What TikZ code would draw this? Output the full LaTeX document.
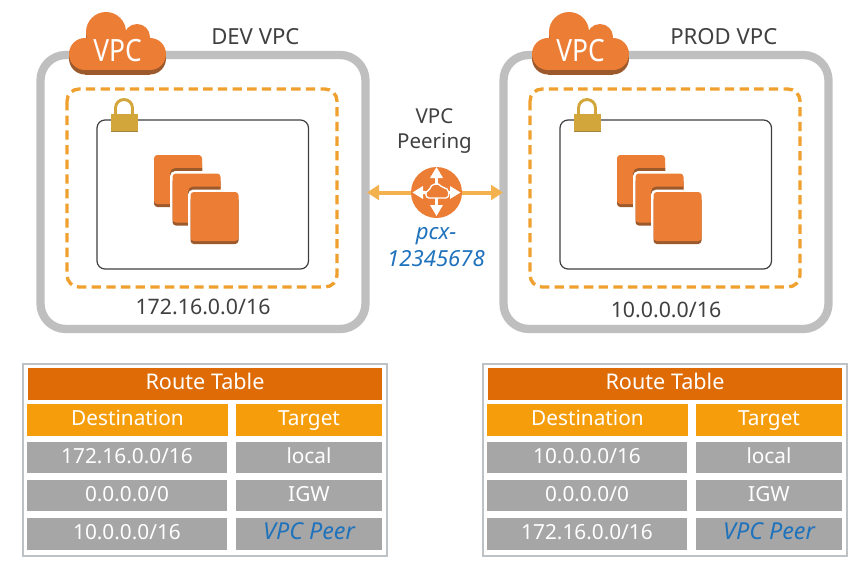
\documentclass[tikz,border=0pt]{standalone}
\usepackage{fontspec}
\setmainfont{Noto Sans}
\usetikzlibrary{arrows.meta}
\definecolor{orng}{HTML}{EC7D35}
\definecolor{orngd}{HTML}{9C5A2C}
\definecolor{framegray}{HTML}{BFBFBF}
\definecolor{dashor}{HTML}{EFA02E}
\definecolor{arrowor}{HTML}{F4B24E}
\definecolor{lockc}{HTML}{D2A63A}
\definecolor{lockd}{HTML}{A2843C}
\definecolor{hdr}{HTML}{DE6B05}
\definecolor{sub}{HTML}{F59D0B}
\definecolor{rowc}{HTML}{A6A6A6}
\definecolor{bluet}{HTML}{1F72BC}
\definecolor{inkc}{HTML}{404040}
\definecolor{tablb}{HTML}{BCC2C6}
\newcommand{\pxfont}[1]{\fontsize{#1}{#1}\selectfont}
\tikzset{
  x=0.75pt,y=-0.75pt,
  vpcframe/.style={draw=framegray,line width=6.2pt,rounded corners=19pt},
  subnetdash/.style={draw=dashor,line width=2.5pt,dash pattern=on 7pt off 4pt,rounded corners=9pt},
  innerbox/.style={draw=inkc,line width=0.9pt,rounded corners=6pt},
  title/.style={text=inkc,inner sep=0pt,font=\pxfont{16.6}},
  peertitle/.style={text=inkc,inner sep=0pt,font=\pxfont{15.4}},
  cidr/.style={text=inkc,inner sep=0pt,font=\pxfont{16}},
  cellb/.style={inner sep=0pt,text=white,anchor=center,text height=11.5pt,text depth=3pt},
  hdrcell/.style={cellb,fill=hdr,font=\pxfont{16.2}},
  subcell/.style={cellb,fill=sub,font=\pxfont{15.6}},
  rowcell/.style={cellb,fill=rowc,font=\pxfont{15.6}},
  peer/.style={font=\pxfont{16.6}\itshape,text=bluet},
  tableframe/.style={draw=tablb,line width=1.1pt,fill=white},
  linkarrow/.style={draw=arrowor,line width=3pt,-{Triangle[length=9pt,width=11pt]}},
  cloudtext/.style={text=white,inner sep=0pt,font=\pxfont{23},xscale=.86},
}
% table cell: name, x0, y0, x1, y1, style, text
\newcommand{\tcell}[7]{\node[#6,minimum width={(#4-#2)*0.75pt},minimum height={(#5-#3)*0.75pt}] (#1) at ({(#2+#4)/2},{(#3+#5)/2}) {#7};}
% rounded instance squares
\newcommand{\instface}[2]{%
  \fill[orngd,rounded corners=2.5pt] (#1,#2+5) rectangle (#1+48,#2+52);
  \fill[orng,rounded corners=2.5pt] (#1,#2) rectangle (#1+48,#2+49);}
\newcommand{\inst}[2]{%
  \begin{scope}
    \clip (#1-18.5,#2-18.5) rectangle (#1+29.5,#2+34);
    \fill[orngd,rounded corners=4pt] (#1-2.5,#2-5.5) rectangle (#1+50,#2+48);
  \end{scope}
  \fill[white,rounded corners=4pt] (#1-2.5,#2-2.5) rectangle (#1+50.5,#2+54);
  \instface{#1}{#2}}
% cloud made of overlapping parts, each filled on its own
\newcommand{\cloudshape}[2]{%
  \begin{scope}[shift={(0,#1)}]
  \fill[#2] (106,32) circle[radius=20];
  \fill[#2] (137,37) circle[radius=13];
  \fill[#2] (85,54) circle[radius=16];
  \fill[#2] (150,54) circle[radius=16];
  \fill[#2] (85,38) rectangle (150,70);
  \end{scope}}
% VPC group
\newcommand{\vpcgroup}[7]{%
\begin{scope}[shift={(#1,0)}]
  \draw[vpcframe] (40.5,55) rectangle (365.5,329);
  \draw[subnetdash] (67,89) rectangle (337,287);
  \draw[innerbox] (97,120) rectangle (308.5,269);
  \cloudshape{4.5}{orngd}
  \cloudshape{0}{orng}
  \node[cloudtext] (#2cl) at (117.5,51) {VPC};
  \draw[lockc,line width=2.2pt] (115.5,116) -- (115.5,108) arc[start angle=180,end angle=360,radius=8.5] -- (132.5,116);
  \fill[lockd] (111,116) rectangle (137.5,132);
  \fill[lockc] (111,114) rectangle (137.5,130.5);
  \instface{154}{155}\inst{172.5}{173.5}\inst{190.5}{192}
  \node[title,anchor=west] (#2name) at (#3,37) {#4};
  \node[cidr] (#2cidr) at (#6,#5) {#7};
\end{scope}}
\newcommand{\rtable}[4]{%
\begin{scope}[shift={(#1,0)}]
  \draw[tableframe] (23,364) rectangle (387,556);
  \tcell{#2h}{28}{368}{382}{400}{hdrcell}{Route Table}
  \tcell{#2d}{27}{404}{228}{436}{subcell}{Destination}
  \tcell{#2t}{236}{404}{382}{436}{subcell}{Target}
  \tcell{#2a}{27}{442}{227}{473}{rowcell}{#3}
  \tcell{#2b}{236}{442}{382}{473}{rowcell}{local}
  \tcell{#2c}{27}{480}{227}{511}{rowcell}{0.0.0.0/0}
  \tcell{#2e}{236}{480}{382}{511}{rowcell}{IGW}
  \tcell{#2f}{27}{518}{227}{550}{rowcell}{#4}
  \tcell{#2g}{236}{518}{382}{550}{rowcell}{\pxfont{17.5}\textcolor{bluet}{\itshape VPC Peer}}
\end{scope}}
\begin{document}
\begin{tikzpicture}
\useasboundingbox (0,0) rectangle (865,571);
\fill[white] (0,0) rectangle (865,571);
\vpcgroup{0}{dev}{211}{DEV VPC}{307}{203}{172.16.0.0/16}
\vpcgroup{463}{prod}{207}{PROD VPC}{310}{203}{10.0.0.0/16}
% peering
\coordinate (leftend) at (367,192.5);
\coordinate (rightend) at (503,192.5);
\node[circle,fill=orng,minimum size={51*0.75pt},inner sep=0pt] (router) at (436.5,192.5) {};
\draw[linkarrow] (router.west) -- (leftend);
\draw[linkarrow] (router.east) -- (rightend);
\begin{scope}[white]
 \draw[line width=2pt] (436.5,177) -- (436.5,208) (420,192.5) -- (454,192.5);
 \fill (436.5,167) -- (443,178) -- (430,178) -- cycle;
 \fill (436.5,216) -- (443,205) -- (430,205) -- cycle;
 \fill (412.5,192.5) -- (423,186) -- (423,199) -- cycle;
 \fill (460.5,192.5) -- (450,186) -- (450,199) -- cycle;
\end{scope}
\draw[white,fill=orng,line width=1pt,rounded corners=1.5pt] (431,198) .. controls (425,198) and (425,191) .. (430,190.5) .. controls (430,184) and (439,182) .. (442,188) .. controls (449,187) and (451,198) .. (444,198) -- cycle;
\node[peertitle,align=center] (peering) at (434.5,131) {VPC\\[3.5pt]Peering};
\node[peer,align=center,inner sep=0pt] (pcx) at (436,247) {pcx-\\[3pt]12345678};
\rtable{0}{l}{172.16.0.0/16}{10.0.0.0/16}
\rtable{460}{r}{10.0.0.0/16}{172.16.0.0/16}
\end{tikzpicture}
\end{document}
